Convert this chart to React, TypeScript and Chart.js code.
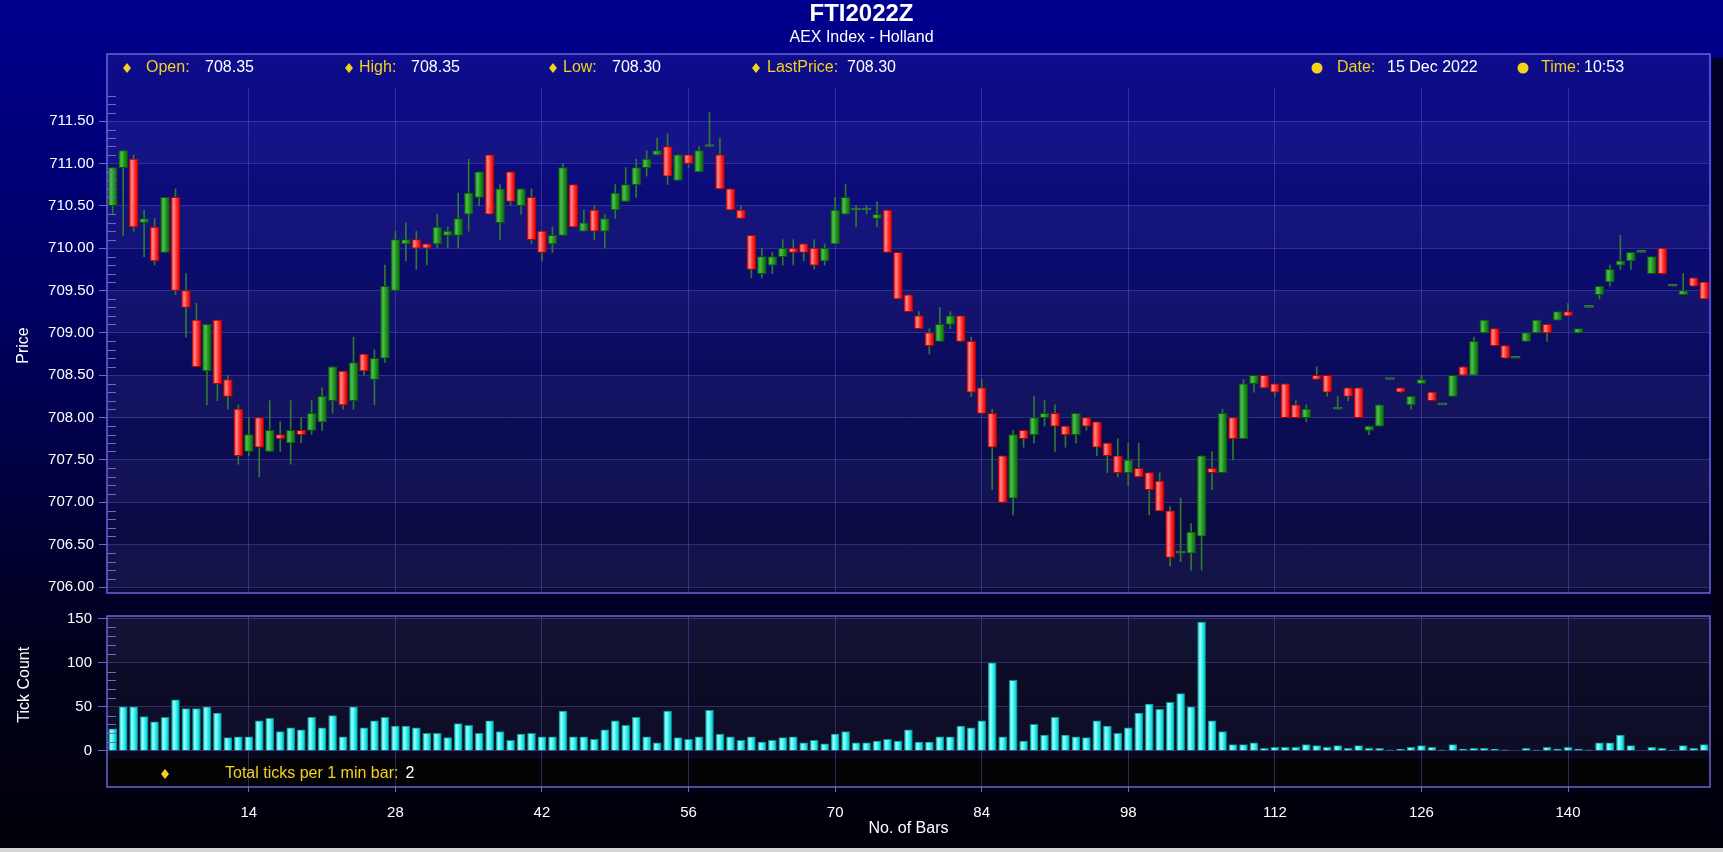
import React, { useEffect, useRef } from "react";
import { Chart, registerables } from "chart.js";

Chart.register(...registerables);

// ---------------- DATA ----------------
const OPEN = [
  710.50, 710.95, 711.05, 710.30, 710.25, 709.95, 710.60, 709.50, 709.15, 708.55,
  709.15, 708.45, 708.10, 707.60, 708.00, 707.60, 707.80, 707.70, 707.85, 707.85,
  707.95, 708.20, 708.55, 708.20, 708.75, 708.45, 708.70, 709.50, 710.05, 710.10,
  710.05, 710.05, 710.15, 710.15, 710.40, 710.60, 711.10, 710.30, 710.90, 710.50,
  710.60, 710.20, 710.05, 710.15, 710.75, 710.20, 710.45, 710.20, 710.45, 710.55,
  710.75, 710.95, 711.10, 711.20, 710.80, 711.10, 710.90, 711.20, 711.10, 710.70,
  710.45, 710.15, 709.70, 709.80, 709.90, 710.00, 710.05, 710.00, 709.85, 710.05,
  710.40, 710.45, 710.45, 710.35, 710.45, 709.95, 709.45, 709.20, 709.00, 708.90,
  709.10, 709.20, 708.90, 708.35, 708.05, 707.55, 707.05, 707.85, 707.80, 708.00,
  708.05, 707.90, 707.80, 708.00, 707.95, 707.70, 707.55, 707.35, 707.40, 707.35,
  707.25, 706.90, 706.40, 706.40, 706.60, 707.40, 707.35, 708.00, 707.75, 708.40,
  708.50, 708.40, 708.40, 708.15, 708.00, 708.50, 708.50, 708.10, 708.35, 708.35,
  707.85, 707.90, 708.45, 708.35, 708.15, 708.40, 708.30, 708.15, 708.25, 708.60,
  708.50, 709.00, 709.05, 708.85, 708.70, 708.90, 709.00, 709.10, 709.15, 709.25,
  709.00, 709.30, 709.45, 709.60, 709.80, 709.85, 709.95, 709.70, 710.00, 709.55,
  709.45, 709.65, 709.60,
];
const HIGH = [
  710.95, 711.15, 711.10, 710.45, 710.35, 710.60, 710.70, 709.70, 709.35, 709.10,
  709.15, 708.50, 708.15, 708.00, 708.00, 708.20, 707.95, 708.20, 708.00, 708.20,
  708.35, 708.60, 708.55, 708.95, 708.75, 708.80, 709.80, 710.20, 710.30, 710.20,
  710.05, 710.40, 710.25, 710.65, 711.05, 710.90, 711.10, 710.75, 710.90, 710.70,
  710.70, 710.20, 710.25, 711.00, 710.75, 710.45, 710.50, 710.40, 710.75, 710.95,
  711.05, 711.15, 711.30, 711.35, 711.10, 711.10, 711.20, 711.60, 711.30, 710.70,
  710.50, 710.15, 710.00, 709.95, 710.10, 710.10, 710.05, 710.10, 710.05, 710.60,
  710.75, 710.50, 710.50, 710.55, 710.45, 709.95, 709.45, 709.25, 709.05, 709.30,
  709.25, 709.20, 708.95, 708.45, 708.10, 707.55, 707.85, 707.85, 708.25, 708.20,
  708.15, 707.90, 708.05, 708.00, 707.95, 707.70, 707.75, 707.70, 707.70, 707.35,
  707.35, 706.95, 707.05, 706.75, 707.55, 707.60, 708.10, 708.00, 708.45, 708.50,
  708.50, 708.40, 708.40, 708.20, 708.15, 708.60, 708.50, 708.25, 708.35, 708.35,
  707.90, 708.15, 708.45, 708.35, 708.25, 708.50, 708.30, 708.15, 708.50, 708.60,
  708.95, 709.15, 709.05, 708.85, 708.70, 709.00, 709.15, 709.10, 709.25, 709.35,
  709.05, 709.30, 709.55, 709.80, 710.15, 709.95, 709.95, 709.90, 710.00, 709.55,
  709.70, 709.65, 709.60,
];
const LOW = [
  710.40, 710.15, 710.20, 709.90, 709.80, 709.95, 709.45, 708.95, 708.60, 708.15,
  708.20, 708.10, 707.45, 707.55, 707.30, 707.60, 707.60, 707.45, 707.70, 707.80,
  707.85, 708.05, 708.10, 708.10, 708.50, 708.15, 708.65, 709.50, 709.85, 709.75,
  709.80, 710.00, 710.00, 710.00, 710.20, 710.50, 710.40, 710.10, 710.50, 710.40,
  710.05, 709.85, 709.95, 710.15, 710.25, 710.20, 710.10, 710.00, 710.35, 710.55,
  710.60, 710.85, 711.10, 710.75, 710.80, 710.95, 710.90, 711.20, 710.70, 710.45,
  710.35, 709.65, 709.65, 709.70, 709.80, 709.80, 709.85, 709.75, 709.80, 710.05,
  710.40, 710.25, 710.40, 710.25, 709.95, 709.40, 709.25, 709.05, 708.75, 708.90,
  709.05, 708.90, 708.25, 708.05, 707.15, 707.00, 706.85, 707.65, 707.70, 707.90,
  707.60, 707.65, 707.70, 707.85, 707.55, 707.35, 707.30, 707.20, 707.30, 706.85,
  706.90, 706.25, 706.30, 706.20, 706.20, 707.15, 707.35, 707.50, 707.75, 708.30,
  708.35, 708.25, 708.00, 708.00, 707.95, 708.45, 708.25, 708.10, 708.20, 708.00,
  707.80, 707.90, 708.45, 708.30, 708.10, 708.40, 708.20, 708.15, 708.25, 708.50,
  708.50, 709.00, 708.85, 708.70, 708.70, 708.90, 709.00, 708.90, 709.15, 709.20,
  709.00, 709.30, 709.40, 709.55, 709.75, 709.75, 709.95, 709.70, 709.70, 709.55,
  709.45, 709.55, 709.40,
];
const CLOSE = [
  710.95, 711.15, 710.25, 710.35, 709.85, 710.60, 709.50, 709.30, 708.60, 709.10,
  708.40, 708.25, 707.55, 707.80, 707.65, 707.85, 707.75, 707.85, 707.80, 708.05,
  708.25, 708.60, 708.15, 708.65, 708.55, 708.70, 709.55, 710.10, 710.10, 710.00,
  710.00, 710.25, 710.20, 710.35, 710.65, 710.90, 710.40, 710.70, 710.55, 710.70,
  710.10, 709.95, 710.15, 710.95, 710.25, 710.30, 710.20, 710.35, 710.65, 710.75,
  710.95, 711.05, 711.15, 710.85, 711.10, 711.00, 711.15, 711.20, 710.70, 710.45,
  710.35, 709.75, 709.90, 709.90, 710.00, 709.95, 709.95, 709.80, 710.00, 710.45,
  710.60, 710.45, 710.45, 710.40, 709.95, 709.40, 709.25, 709.05, 708.85, 709.10,
  709.20, 708.90, 708.30, 708.05, 707.65, 707.00, 707.80, 707.75, 708.00, 708.05,
  707.90, 707.80, 708.05, 707.90, 707.65, 707.55, 707.35, 707.50, 707.30, 707.15,
  706.90, 706.35, 706.40, 706.65, 707.55, 707.35, 708.05, 707.75, 708.40, 708.50,
  708.35, 708.30, 708.00, 708.00, 708.10, 708.45, 708.30, 708.10, 708.25, 708.00,
  707.90, 708.15, 708.45, 708.30, 708.25, 708.45, 708.20, 708.15, 708.50, 708.50,
  708.90, 709.15, 708.85, 708.70, 708.70, 709.00, 709.15, 709.00, 709.25, 709.20,
  709.05, 709.30, 709.55, 709.75, 709.85, 709.95, 709.95, 709.90, 709.70, 709.55,
  709.50, 709.55, 709.40,
];
const TICK_COUNT = [
  25, 50, 50, 39, 33, 38, 58, 48, 48, 50,
  43, 15, 16, 16, 34, 37, 22, 26, 24, 38,
  26, 40, 16, 50, 26, 34, 38, 28, 28, 26,
  20, 20, 15, 31, 29, 20, 34, 22, 12, 19,
  20, 16, 16, 45, 16, 16, 13, 24, 34, 29,
  38, 16, 9, 45, 15, 13, 16, 46, 19, 16,
  12, 16, 10, 12, 15, 16, 9, 12, 8, 19,
  22, 9, 9, 11, 13, 11, 24, 10, 10, 16,
  16, 28, 26, 34, 100, 16, 80, 11, 30, 18,
  38, 18, 16, 15, 34, 28, 20, 26, 43, 53,
  47, 55, 65, 50, 146, 34, 22, 7, 7, 9,
  3, 4, 4, 4, 7, 6, 4, 6, 3, 6,
  3, 3, 1, 2, 4, 6, 4, 1, 7, 2,
  3, 3, 2, 1, 0, 3, 1, 4, 2, 4,
  2, 1, 9, 9, 18, 6, 0, 4, 3, 1,
  6, 3, 7,
];
const BAR_NO = OPEN.map((_, i) => i + 1);

const PRICE_TICKS = [706, 706.5, 707, 707.5, 708, 708.5, 709, 709.5, 710, 710.5, 711, 711.5];
const COUNT_TICKS = [0, 50, 100, 150];
const BAR_TICKS = [14, 28, 42, 56, 70, 84, 98, 112, 126, 140];

const TITLE = "FTI2022Z";
const SUBTITLE = "AEX Index - Holland";
const INFO_LABELS = ["Open:", "High:", "Low:", "LastPrice:"];
const INFO_VALUES = ["708.35", "708.35", "708.30", "708.30"];
const STAMP_LABELS = ["Date:", "Time:"];
const STAMP_VALUES = ["15 Dec 2022", "10:53"];
const LEGEND_LABEL = "Total ticks per 1 min bar:";
const LEGEND_VALUE = "2";

// ---------------- STYLE / LAYOUT ----------------
const W = 1723;
const H = 852;
const PRICE_H = 607;
const VOL_TOP = 600;
const VOL_H = H - VOL_TOP;
const FAMILY = "'Liberation Sans', Arial, Helvetica, sans-serif";
const AXIS_COLOR = "#6d63d4";
const GRID_COLOR = "rgba(112, 104, 214, 0.36)";
const YELLOW = "#f2d21c";
const WICK = "#2f7a2f";
const X_MIN = 0.456;
const X_MAX = 153.56;
const HEADER_H = 34;

const INFO_MARK_X = [127, 349, 553, 756];
const INFO_LABEL_X = [146, 359, 563, 767];
const INFO_VALUE_X = [205, 411, 612, 847];
const STAMP_MARK_X = [1317, 1523];
const STAMP_LABEL_X = [1337, 1541];
const STAMP_VALUE_X = [1387, 1584];

function diamond(ctx: CanvasRenderingContext2D, x: number, y: number) {
  ctx.beginPath();
  ctx.moveTo(x, y - 5);
  ctx.lineTo(x + 4, y);
  ctx.lineTo(x, y + 5);
  ctx.lineTo(x - 4, y);
  ctx.closePath();
  ctx.fill();
}

function hGrad(ctx: CanvasRenderingContext2D, px: number, half: number, stops: string[]) {
  if (!isFinite(px)) return stops[2];
  const g = ctx.createLinearGradient(px - half, 0, px + half, 0);
  g.addColorStop(0, stops[0]);
  g.addColorStop(0.3, stops[1]);
  g.addColorStop(0.65, stops[2]);
  g.addColorStop(1, stops[3]);
  return g;
}

const pricePanel = {
  id: "pricePanel",
  beforeDraw(chart: any) {
    const { ctx, chartArea: a } = chart;
    const y = chart.scales.y;
    const top = a.top - HEADER_H;
    ctx.save();
    const g = ctx.createLinearGradient(0, top, 0, a.bottom);
    g.addColorStop(0, "#0d0d8e");
    g.addColorStop(0.5, "#0b0b64");
    g.addColorStop(1, "#0b0b3a");
    ctx.fillStyle = g;
    ctx.fillRect(a.left, top, a.right - a.left, a.bottom - top);
    ctx.fillStyle = "rgba(150,150,255,0.06)";
    for (let i = PRICE_TICKS.length - 1, k = 0; i > 0; i--, k++) {
      if (k % 2 === 0) {
        const y1 = y.getPixelForValue(PRICE_TICKS[i]);
        const y2 = y.getPixelForValue(PRICE_TICKS[i - 1]);
        ctx.fillRect(a.left, y1, a.right - a.left, y2 - y1);
      }
    }
    ctx.restore();
  },
  afterDraw(chart: any) {
    const { ctx, chartArea: a } = chart;
    const y = chart.scales.y;
    const top = a.top - HEADER_H;
    ctx.save();
    ctx.strokeStyle = AXIS_COLOR;
    ctx.lineWidth = 1.5;
    ctx.strokeRect(a.left, top, a.right - a.left, a.bottom - top);
    ctx.lineWidth = 1;
    for (let k = Math.ceil(y.min * 10); k <= Math.floor(y.max * 10); k++) {
      if (k % 5 === 0) continue;
      const py = Math.round(y.getPixelForValue(k / 10)) + 0.5;
      ctx.beginPath();
      ctx.moveTo(a.left, py);
      ctx.lineTo(a.left + 9, py);
      ctx.stroke();
    }
    ctx.fillStyle = "#ffffff";
    ctx.textAlign = "center";
    ctx.textBaseline = "middle";
    ctx.font = `bold 24px ${FAMILY}`;
    ctx.fillText(TITLE, chart.width / 2, 14);
    ctx.font = `16px ${FAMILY}`;
    ctx.fillText(SUBTITLE, chart.width / 2, 38);
    const iy = top + 14;
    ctx.textAlign = "left";
    ctx.font = `16px ${FAMILY}`;
    INFO_LABELS.forEach((lab, i) => {
      ctx.fillStyle = YELLOW;
      diamond(ctx, INFO_MARK_X[i], iy);
      ctx.fillText(lab, INFO_LABEL_X[i], iy);
      ctx.fillStyle = "#ffffff";
      ctx.fillText(INFO_VALUES[i], INFO_VALUE_X[i], iy);
    });
    STAMP_LABELS.forEach((lab, i) => {
      ctx.fillStyle = YELLOW;
      ctx.beginPath();
      ctx.arc(STAMP_MARK_X[i], iy, 5.5, 0, Math.PI * 2);
      ctx.fill();
      ctx.fillText(lab, STAMP_LABEL_X[i], iy);
      ctx.fillStyle = "#ffffff";
      ctx.fillText(STAMP_VALUES[i], STAMP_VALUE_X[i], iy);
    });
    ctx.save();
    ctx.translate(24, (a.top + a.bottom) / 2 + 5);
    ctx.rotate(-Math.PI / 2);
    ctx.textAlign = "center";
    ctx.fillStyle = "#ffffff";
    ctx.font = `16px ${FAMILY}`;
    ctx.fillText("Price", 0, 0);
    ctx.restore();
    ctx.restore();
  },
};

const volPanel = {
  id: "volPanel",
  beforeDraw(chart: any) {
    const { ctx, chartArea: a } = chart;
    const y = chart.scales.y;
    ctx.save();
    const g = ctx.createLinearGradient(0, a.top, 0, a.bottom);
    g.addColorStop(0, "#0f0f2e");
    g.addColorStop(1, "#07071a");
    ctx.fillStyle = g;
    ctx.fillRect(a.left, a.top, a.right - a.left, a.bottom - a.top);
    ctx.fillStyle = "rgba(150,150,255,0.035)";
    for (let i = COUNT_TICKS.length - 1, k = 0; i > 0; i--, k++) {
      if (k % 2 === 0) {
        const y1 = y.getPixelForValue(COUNT_TICKS[i]);
        const y2 = y.getPixelForValue(COUNT_TICKS[i - 1]);
        ctx.fillRect(a.left, y1, a.right - a.left, y2 - y1);
      }
    }
    ctx.fillStyle = "#030306";
    ctx.fillRect(a.left, a.bottom - 28, a.right - a.left, 28);
    ctx.restore();
  },
  afterDraw(chart: any) {
    const { ctx, chartArea: a } = chart;
    const y = chart.scales.y;
    ctx.save();
    ctx.strokeStyle = AXIS_COLOR;
    ctx.lineWidth = 1.5;
    ctx.strokeRect(a.left, a.top, a.right - a.left, a.bottom - a.top);
    ctx.lineWidth = 1;
    for (let v = 10; v < 150; v += 10) {
      if (v % 50 === 0) continue;
      const py = Math.round(y.getPixelForValue(v)) + 0.5;
      ctx.beginPath();
      ctx.moveTo(a.left, py);
      ctx.lineTo(a.left + 9, py);
      ctx.stroke();
    }
    const ly = a.bottom - 13;
    ctx.font = `16px ${FAMILY}`;
    ctx.textBaseline = "middle";
    ctx.textAlign = "left";
    ctx.fillStyle = YELLOW;
    diamond(ctx, 165, ly);
    ctx.fillText(LEGEND_LABEL, 225, ly);
    const wl = ctx.measureText(LEGEND_LABEL).width;
    ctx.fillStyle = "#ffffff";
    ctx.fillText(LEGEND_VALUE, 225 + wl + 7, ly);
    ctx.textAlign = "center";
    ctx.fillText("No. of Bars", (a.left + a.right) / 2, 229);
    ctx.save();
    ctx.translate(25, y.getPixelForValue(75));
    ctx.rotate(-Math.PI / 2);
    ctx.fillText("Tick Count", 0, 0);
    ctx.restore();
    ctx.restore();
  },
};

const tickFont = { family: FAMILY, size: 15 };

function xScale(showLabels: boolean) {
  return {
    type: "linear" as const,
    min: X_MIN,
    max: X_MAX,
    offset: false,
    afterBuildTicks: (s: any) => {
      s.ticks = BAR_TICKS.map((v) => ({ value: v }));
    },
    afterFit: (s: any) => {
      s.height = showLabels ? 65 : 0;
    },
    ticks: {
      display: showLabels,
      autoSkip: false,
      maxRotation: 0,
      color: "#ffffff",
      font: tickFont,
      padding: 12,
      callback: (v: any) => String(v),
    },
    grid: {
      offset: false,
      color: GRID_COLOR,
      tickColor: AXIS_COLOR,
      drawTicks: showLabels,
      tickLength: 5,
    },
    border: { display: false },
  };
}

export default function App() {
  const priceRef = useRef<HTMLCanvasElement>(null);
  const volRef = useRef<HTMLCanvasElement>(null);

  useEffect(() => {
    const bodyColor = (c: any) => {
      const i = c.dataIndex;
      if (i === undefined) return "#1f8f1f";
      const o = OPEN[i];
      const cl = CLOSE[i];
      if (cl === o) return WICK;
      const xs = c.chart.scales.x;
      const px = xs ? xs.getPixelForValue(BAR_NO[i]) : NaN;
      if (cl > o) return hGrad(c.chart.ctx, px, 4.5, ["#137013", "#4fbf4f", "#1e921e", "#0f5f0f"]);
      return hGrad(c.chart.ctx, px, 4.5, ["#e01010", "#ff8a8a", "#ff2a2a", "#c80000"]);
    };
    const bodyBorder = (c: any) => {
      const i = c.dataIndex;
      if (i === undefined) return WICK;
      const o = OPEN[i];
      const cl = CLOSE[i];
      if (cl > o) return "#0c560c";
      if (cl < o) return "#b40000";
      return WICK;
    };

    const priceChart = new Chart(priceRef.current as HTMLCanvasElement, {
      type: "bar",
      data: {
        datasets: [
          {
            label: "Range",
            data: BAR_NO.map((b, i) => ({ x: b, y: [LOW[i], HIGH[i]] })) as any,
            backgroundColor: WICK,
            borderWidth: 0,
            barThickness: 1,
            grouped: false,
            order: 2,
          } as any,
          {
            label: "Open/Close",
            data: BAR_NO.map((b, i) => ({ x: b, y: [OPEN[i], CLOSE[i]] })) as any,
            backgroundColor: bodyColor,
            borderColor: bodyBorder,
            borderWidth: 1,
            borderSkipped: false,
            barThickness: 9,
            minBarLength: 2,
            grouped: false,
            order: 1,
          } as any,
        ],
      },
      options: {
        responsive: false,
        animation: false,
        devicePixelRatio: 1,
        events: [],
        layout: { padding: { left: 0, right: 13, top: 88, bottom: 0 } },
        plugins: { legend: { display: false }, tooltip: { enabled: false } },
        scales: {
          x: xScale(false) as any,
          y: {
            type: "linear",
            min: 705.93,
            max: 711.89,
            afterBuildTicks: (s: any) => {
              s.ticks = PRICE_TICKS.map((v) => ({ value: v }));
            },
            afterFit: (s: any) => {
              s.width = 107;
              s.paddingBottom = 14;
              s.paddingTop = 0;
            },
            ticks: {
              color: "#ffffff",
              font: tickFont,
              padding: 5,
              callback: (v: any) => Number(v).toFixed(2),
            },
            grid: { color: GRID_COLOR, tickColor: AXIS_COLOR, tickLength: 8 },
            border: { display: false },
          } as any,
        },
      },
      plugins: [pricePanel],
    });

    const volChart = new Chart(volRef.current as HTMLCanvasElement, {
      type: "bar",
      data: {
        datasets: [
          {
            label: "Tick Count",
            data: BAR_NO.map((b, i) => ({ x: b, y: TICK_COUNT[i] })) as any,
            backgroundColor: (c: any) => {
              const i = c.dataIndex;
              const xs = c.chart.scales.x;
              if (i === undefined || !xs) return "#22f0f0";
              const px = xs.getPixelForValue(BAR_NO[i]);
              return hGrad(c.chart.ctx, px, 4, ["#12c4c4", "#9ffcfc", "#22f2f2", "#10b0b0"]);
            },
            borderColor: "#0b8f8f",
            borderWidth: 1,
            borderSkipped: "bottom",
            barThickness: 8,
            grouped: false,
          } as any,
        ],
      },
      options: {
        responsive: false,
        animation: false,
        devicePixelRatio: 1,
        events: [],
        layout: { padding: { left: 0, right: 13, top: 16, bottom: 0 } },
        plugins: { legend: { display: false }, tooltip: { enabled: false } },
        scales: {
          x: xScale(true) as any,
          y: {
            type: "linear",
            min: -41,
            max: 153,
            afterBuildTicks: (s: any) => {
              s.ticks = COUNT_TICKS.map((v) => ({ value: v }));
            },
            afterFit: (s: any) => {
              s.width = 107;
            },
            ticks: {
              color: "#ffffff",
              font: tickFont,
              padding: 6,
              callback: (v: any) => String(v),
            },
            grid: { color: GRID_COLOR, tickColor: AXIS_COLOR, tickLength: 9 },
            border: { display: false },
          } as any,
        },
      },
      plugins: [volPanel],
    });

    return () => {
      priceChart.destroy();
      volChart.destroy();
    };
  }, []);

  return (
    <div
      style={{
        position: "fixed",
        left: 0,
        top: 0,
        width: W,
        height: H,
        overflow: "hidden",
        background:
          "linear-gradient(180deg, #00008f 0px, #000082 90px, #000064 300px, #00003c 500px, #00001c 650px, #000008 852px)",
      }}
    >
      <canvas ref={priceRef} width={W} height={PRICE_H} style={{ position: "absolute", left: 0, top: 0 }} />
      <canvas ref={volRef} width={W} height={VOL_H} style={{ position: "absolute", left: 0, top: VOL_TOP }} />
      <div
        style={{
          position: "absolute",
          left: 1712,
          top: 58,
          width: 11,
          bottom: 0,
          background: "rgba(0,0,12,0.8)",
        }}
      />
      <div style={{ position: "absolute", left: 0, right: 0, bottom: 0, height: 4, background: "#d6d6d6" }} />
    </div>
  );
}
